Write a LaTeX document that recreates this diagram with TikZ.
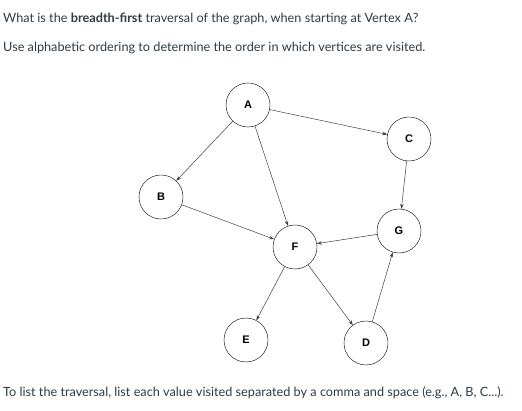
\documentclass[tikz,border=0pt]{standalone}
\usepackage{fontspec}
\setmainfont{Lato}
\newfontfamily\labelfont{Liberation Sans}
\usepackage{tikz}
\usetikzlibrary{arrows.meta}
\definecolor{ink}{HTML}{2D3B45}

\begin{document}
\begin{tikzpicture}[
  x=1pt,y=-1pt,
  vertex/.style={draw,circle,minimum size=44pt,inner sep=0pt,
                 font=\labelfont\bfseries\fontsize{11}{13}\selectfont},
  arrow/.style={-{Stealth[length=5pt,width=3.5pt]},draw=black!75,line width=0.5pt},
  txt/.style={anchor=base west,inner sep=0pt,text=ink,
              font=\fontsize{12.7}{14}\selectfont},
]
\useasboundingbox (0,0) rectangle (522,411);
% question
\node[txt] (q1) at (3,23) {What is the \textbf{breadth-first} traversal of the graph, when starting at Vertex A?};
\node[txt] (q2) at (3,52) {Use alphabetic ordering to determine the order in which vertices are visited.};
\node[txt] (q3) at (3,396) {To list the traversal, list each value visited separated by a comma and space (e.g., A, B, C...).};
% vertices
\node[vertex] (a) at (248,105) {A};
\node[vertex] (b) at (161,197) {B};
\node[vertex] (c) at (409,139) {C};
\node[vertex] (f) at (295,247) {F};
\node[vertex] (g) at (399,231) {G};
\node[vertex] (e) at (246,340) {E};
\node[vertex] (d) at (366,343) {D};
% edges
\draw[arrow] (a) -- (b);
\draw[arrow] (a) -- (f);
\draw[arrow] (a) -- (c);
\draw[arrow] (c) -- (g);
\draw[arrow] (b) -- (f);
\draw[arrow] (g) -- (f);
\draw[arrow] (f) -- (e);
\draw[arrow] (f) -- (d);
\draw[arrow] (d) -- (g);
\end{tikzpicture}
\end{document}
